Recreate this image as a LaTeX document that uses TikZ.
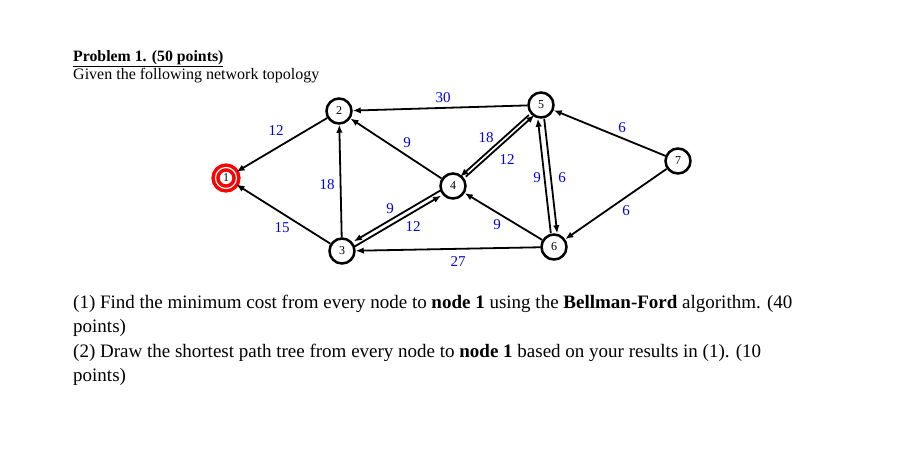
\documentclass[tikz,border=0pt]{standalone}
\usepackage{fontspec}
\setmainfont{Liberation Serif}
\usetikzlibrary{arrows.meta}
\begin{document}
\begin{tikzpicture}[x=1pt,y=-1pt,
 nd/.style={circle,draw,line width=2.5pt,minimum size=25pt,inner sep=0pt,font=\fontsize{12}{12}\selectfont},
 e/.style={draw,line width=1.8pt,-{Latex[length=8pt,width=6.5pt]}},
 lb/.style={text=blue!90!black,font=\fontsize{15}{15}\selectfont,inner sep=1pt},
 tx/.style={anchor=base west,inner sep=0pt,font=\fontsize{19}{22}\selectfont}]
\useasboundingbox (0,0) rectangle (922,451);
\node[tx,font=\fontsize{15.8}{18}\selectfont\bfseries] (h) at (73,61) {\underline{Problem 1. (50 points)}};
\node[tx,font=\fontsize{16}{18}\selectfont] (g) at (73,79) {Given the following network topology};
\node[nd,draw=red,line width=3.5pt,double=white,double distance=1.2pt,minimum size=21pt] (n1) at (226,178) {1};
\node[nd] (n2) at (339,111) {2};
\node[nd] (n3) at (342,251) {3};
\node[nd] (n4) at (453,186) {4};
\node[nd] (n5) at (541,105) {5};
\node[nd] (n6) at (554,247) {6};
\node[nd] (n7) at (678,161) {7};
\draw[e] (n2) -- (n1);
\draw[e] (n3) -- (n1);
\draw[e] (n3) -- (n2);
\draw[e] (n4) -- (n2);
\draw[e] (n5) -- (n2);
\draw[e] ([yshift=-2.8pt]n3.30) -- ([yshift=-2.8pt]n4.210);
\draw[e] ([yshift=2.8pt]n4.210) -- ([yshift=2.8pt]n3.30);
\draw[e] ([xshift=-2.8pt]n5.227) -- ([xshift=-2.8pt]n4.43);
\draw[e] ([xshift=2.8pt]n4.43) -- ([xshift=2.8pt]n5.227);
\draw[e] (n6) -- (n4);
\draw[e] (n6) -- (n3);
\draw[e] ([xshift=-3.2pt]n6.north) -- ([xshift=-3.2pt]n5.south);
\draw[e] ([xshift=3.2pt]n5.south) -- ([xshift=3.2pt]n6.north);
\draw[e] (n7) -- (n5);
\draw[e] (n7) -- (n6);
\node[lb] (l1) at (276,131) {12};
\node[lb] (l2) at (282,228) {15};
\node[lb] (l3) at (327,185) {18};
\node[lb] (l4) at (407,143) {9};
\node[lb] (l5) at (443,98) {30};
\node[lb] (l6) at (390,209) {9};
\node[lb] (l7) at (413,227) {12};
\node[lb] (l8) at (486,138) {18};
\node[lb] (l9) at (507,160) {12};
\node[lb] (l10) at (497,225) {9};
\node[lb] (l11) at (458,262) {27};
\node[lb] (l12) at (537,178) {9};
\node[lb] (l13) at (562,178) {6};
\node[lb] (l14) at (622,128) {6};
\node[lb] (l15) at (626,211) {6};
\node[tx] (p1) at (73,308) {(1) Find the minimum cost from every node to \textbf{node 1} using the \textbf{Bellman-Ford} algorithm. (40};
\node[tx] (p2) at (73,332) {points)};
\node[tx] (p3) at (73,357) {(2) Draw the shortest path tree from every node to \textbf{node 1} based on your results in (1). (10};
\node[tx] (p4) at (73,381) {points)};
\end{tikzpicture}
\end{document}
